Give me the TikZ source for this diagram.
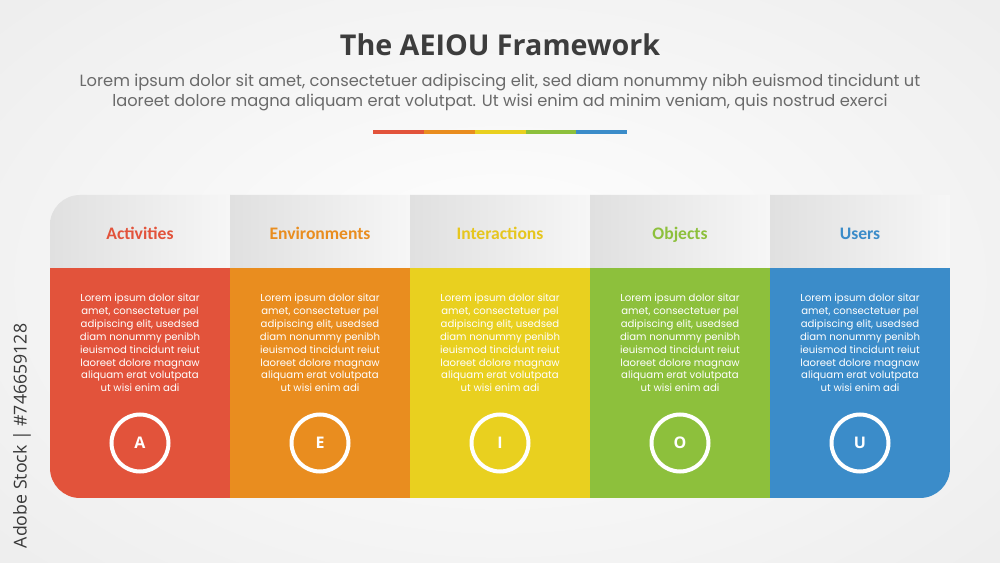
\documentclass[tikz,border=0pt]{standalone}
\usepackage{fontspec}
\setmainfont{Poppins}
\newfontfamily\titlefont{Open Sans}
\newfontfamily\headfont{Carlito}
\definecolor{cred}{HTML}{E2533B}
\definecolor{corange}{HTML}{E98D1F}
\definecolor{cyellow}{HTML}{E9D01F}
\definecolor{cgreen}{HTML}{8DC03C}
\definecolor{cblue}{HTML}{3B8CC9}
\definecolor{tyellow}{HTML}{E6C61E}
\definecolor{bggray}{HTML}{EDEDED}
\definecolor{hdark}{HTML}{E0E0E0}
\definecolor{hlight}{HTML}{F6F6F6}
\definecolor{titlegray}{HTML}{3D3D3D}
\definecolor{subgray}{HTML}{6A6A6A}
\tikzset{
  titlelbl/.style={font=\titlefont\bfseries\fontsize{21.5}{25}\selectfont, text=titlegray, inner sep=0pt},
  sublbl/.style={font=\fontsize{12.2}{15}\selectfont, text=subgray, align=center, inner sep=0pt},
  headlbl/.style={font=\headfont\bfseries\fontsize{13.2}{15}\selectfont, inner sep=0pt, anchor=base},
  bodylbl/.style={font=\fontsize{7.6}{9.64}\selectfont, text=white, align=center, inner sep=0pt},
  ring/.style={circle, draw=white, line width=3pt, minimum size=42.75pt, inner sep=0pt,
    font=\titlefont\bfseries\fontsize{12}{14}\selectfont, text=white},
  barseg/.style={line width=3pt},
  sidelbl/.style={font=\titlefont\fontsize{13.3}{15}\selectfont, text=black!78, rotate=90, inner sep=0pt}
}
\begin{document}
\begin{tikzpicture}[x=0.75pt,y=0.75pt]
\useasboundingbox (0,0) rectangle (1000,-563);
\shade[inner color=white, outer color=bggray] (-200,150) rectangle (1200,-713);

% title and subtitle
\node[titlelbl] (title) at (500,-45) {The AEIOU Framework};
\node[sublbl] (sub) at (500,-93) {Lorem ipsum dolor sit amet, consectetuer adipiscing elit, sed diam nonummy nibh euismod tincidunt ut\\laoreet dolore magna aliquam erat volutpat. Ut wisi enim ad minim veniam, quis nostrud exerci};

% rainbow bar
\coordinate (b0) at (373,-132);
\coordinate (b1) at (424,-132);
\coordinate (b2) at (475,-132);
\coordinate (b3) at (526,-132);
\coordinate (b4) at (576,-132);
\coordinate (b5) at (627,-132);
\draw[barseg, cred] (b0) -- (b1);
\draw[barseg, corange] (b1) -- (b2);
\draw[barseg, cyellow] (b2) -- (b3);
\draw[barseg, cgreen] (b3) -- (b4);
\draw[barseg, cblue] (b4) -- (b5);

% table
\begin{scope}
\clip (950,-195) -- (80,-195) arc[start angle=90,end angle=180,radius=22.5pt]
  -- (50,-468) arc[start angle=180,end angle=270,radius=22.5pt]
  -- (920,-498) arc[start angle=270,end angle=360,radius=22.5pt] -- cycle;
\foreach \i/\col in {0/cred,1/corange,2/cyellow,3/cgreen,4/cblue}{
  \shade[left color=hdark, right color=hlight] ({50+180*\i},-195) rectangle ++(180,-73);
  \fill[\col] ({50+180*\i},-268) rectangle ++(180,-230);
}
\end{scope}

\foreach \i/\col/\head/\L in {0/cred/Activities/A,1/corange/Environments/E,2/tyellow/Interactions/I,3/cgreen/Objects/O,4/cblue/Users/U}{
  \node[headlbl, text=\col] (h\i) at ({140+180*\i},-239.5) {\head};
  \node[bodylbl] (t\i) at ({140+180*\i},-343) {Lorem ipsum dolor sitar\\amet, consectetuer pel\\adipiscing elit, usedsed\\diam nonummy penibh\\ieuismod tincidunt reiut\\laoreet dolore magnaw\\aliquam erat volutpata\\ut wisi enim adi};
  \node[ring] (c\i) at ({140+180*\i},-443) {\L};
}

% side label
\node[sidelbl] (side) at (22,-436) {Adobe Stock | \#746659128};
\end{tikzpicture}
\end{document}
